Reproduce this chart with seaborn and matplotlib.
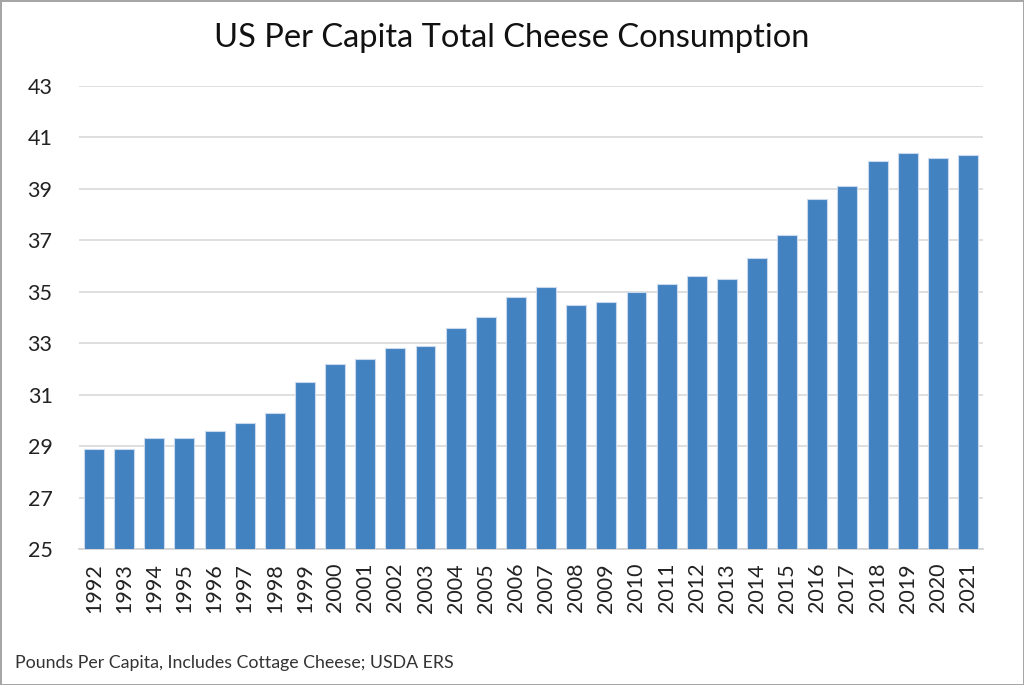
import matplotlib
matplotlib.use("Agg")
import matplotlib.pyplot as plt
import seaborn as sns
import pandas as pd

years = [str(y) for y in range(1992, 2022)]
pounds = [28.9, 28.9, 29.3, 29.3, 29.6, 29.9, 30.3, 31.5, 32.2, 32.4,
          32.8, 32.9, 33.6, 34.0, 34.8, 35.2, 34.5, 34.6, 35.0, 35.3,
          35.6, 35.5, 36.3, 37.2, 38.6, 39.1, 40.1, 40.4, 40.2, 40.3]
yticks = list(range(25, 44, 2))

df = pd.DataFrame({"Year": years, "Pounds": pounds})

sns.set_theme(style="white")
plt.rcParams['font.family'] = ['Lato', 'DejaVu Sans']

fig = plt.figure(figsize=(10.24, 6.85), dpi=100, edgecolor="#a6a6a6", linewidth=2)
ax = fig.add_axes([0.0771, 0.1985, 0.8829, 0.676])

sns.barplot(data=df, x="Year", y="Pounds", color="#4282c0", saturation=1,
            width=0.66, edgecolor="#c9d9ee", linewidth=0.8, ax=ax, zorder=3)

ax.set_ylim(25, 43)
ax.set_yticks(yticks)
ax.yaxis.grid(True, color="#d9d9d9", linewidth=1.2, zorder=0)
ax.set_axisbelow(True)
for s in ["top", "right", "left"]:
    ax.spines[s].set_visible(False)
ax.spines["bottom"].set_color("#d0d0d0")
ax.spines["bottom"].set_linewidth(1.2)
ax.tick_params(axis="x", rotation=90, labelsize=15.5, length=0, pad=10, colors="#222222")
ax.tick_params(axis="y", labelsize=15.5, length=0, pad=19, colors="#222222")
ax.set_xlabel("")
ax.set_ylabel("")
ax.set_xlim(-0.5, len(years) - 0.5)

fig.text(0.5, 0.945, "US Per Capita Total Cheese Consumption", ha="center", va="center",
         fontsize=23.5, color="#111111")
fig.text(0.015, 0.032, "Pounds Per Capita, Includes Cottage Cheese; USDA ERS", ha="left",
         va="center", fontsize=12.8, color="#333333")

fig.savefig("out.png", dpi=100, edgecolor=fig.get_edgecolor())
